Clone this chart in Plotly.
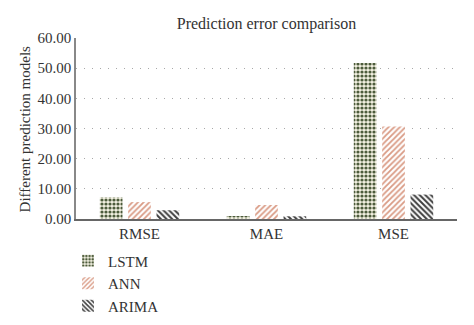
import plotly.graph_objects as go

# Error metrics compared across the three forecasting models
metrics = ["RMSE", "MAE", "MSE"]
lstm = [7.2, 1.0, 51.7]
ann = [5.6, 4.65, 30.7]
arima = [2.9, 0.9, 8.1]

y_ticks = [0, 10, 20, 30, 40, 50, 60]

FONT = "Liberation Serif"
series = [
    ("LSTM", lstm, dict(shape=".", fgcolor="#4c5b3b", bgcolor="#f3f1e2", size=4, solidity=0.5)),
    ("ANN", ann, dict(shape="/", fgcolor="#d99a84", bgcolor="#ffffff", size=4, solidity=0.45)),
    ("ARIMA", arima, dict(shape="\\", fgcolor="#3e3e3e", bgcolor="#ffffff", size=4, solidity=0.5)),
]

fig = go.Figure()
for name, vals, pat in series:
    fig.add_trace(go.Bar(
        name=name, x=metrics, y=vals,
        marker=dict(color=pat["bgcolor"], line=dict(width=0),
                    pattern=dict(shape=pat["shape"], fgcolor=pat["fgcolor"],
                                 bgcolor=pat["bgcolor"], size=pat["size"],
                                 solidity=pat["solidity"], fillmode="replace")),
    ))

fig.update_layout(
    width=474, height=325,
    margin=dict(l=76, r=17, t=38, b=106, autoexpand=False),
    paper_bgcolor="white", plot_bgcolor="white",
    barmode="group", bargap=0.33, bargroupgap=0.2,
    font=dict(family=FONT, size=15, color="#333333"),
    title=dict(text="Prediction error comparison", x=0.5, xref="paper",
               y=1 - 23 / 325, yanchor="middle", xanchor="center",
               font=dict(family=FONT, size=16, color="#333333")),
    xaxis=dict(showline=True, linecolor="#666666", linewidth=1.5,
               ticks="", tickfont=dict(size=15), showgrid=False),
    yaxis=dict(range=[0, 60], tickvals=y_ticks, tickformat=".2f",
               showline=True, linecolor="#888888", linewidth=1.5,
               showgrid=True, gridcolor="#a8a8a8", griddash="1px,7px", gridwidth=1.2,
               zeroline=False, ticks="", tickfont=dict(size=15)),
    legend=dict(x=-0.021, y=-0.141, xanchor="left", yanchor="top",
                orientation="v", font=dict(size=15), tracegroupgap=0,
                itemwidth=30, bgcolor="rgba(0,0,0,0)"),
    showlegend=True,
    annotations=[dict(text="Different prediction models", textangle=-90,
                      xref="paper", yref="paper", x=-0.134, y=0.5,
                      xanchor="center", yanchor="middle", showarrow=False,
                      font=dict(family=FONT, size=15, color="#333333"))],
)

fig.write_html("out.html")
